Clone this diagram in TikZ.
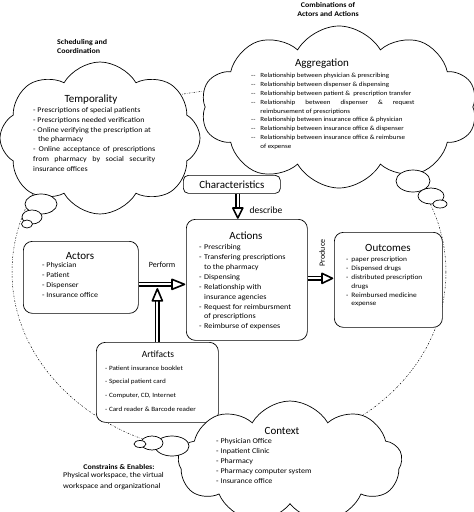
\documentclass[tikz,border=0pt]{standalone}
\usepackage{fontspec}
\setmainfont{Carlito}
\newfontfamily\wf[FakeStretch=1.1]{Carlito}
\usetikzlibrary{shapes.symbols,shapes.geometric,calc}
\newcommand{\fsz}[2]{\fontsize{#1}{#2}\selectfont}
\begin{document}
\begin{tikzpicture}[x=1pt,y=-1pt,
  cloudbox/.style={cloud, draw, fill=white, cloud ignores aspect, inner sep=0pt, line width=0.7pt, cloud puff arc=120},
  bubble/.style={ellipse, draw, fill=white, inner sep=0pt, line width=0.7pt},
  rbox/.style={draw, fill=white, rounded corners=9pt, line width=0.7pt, inner sep=0pt, anchor=north west},
  ttl/.style={font=\fsz{11}{13}, inner sep=0pt},
  lst/.style={inner sep=0pt, anchor=north west, align=left},
  lbl/.style={inner sep=0pt},
  hd/.style={font=\wf\bfseries\fsz{7.2}{9}, inner sep=0pt, align=center},
  dashpat/.style={line width=0.5pt, dash pattern=on 1.5pt off 1.5pt on 0.4pt off 1.5pt},
  dshaft/.style={double=white, double distance=1.8pt, line width=1.6pt},
  dhead/.style={draw, fill=white, line width=1.6pt, line join=round}
]
\useasboundingbox (0,0) rectangle (474,512);
\fill[white] (0,0) rectangle (474,512);

% big dash-dot ellipse
\draw[dashpat] (229,272) ellipse [x radius=217pt, y radius=182pt];

% header labels
\node[hd] (combo) at (328,9) {Combinations of\\Actors and Actions};
\node[hd, anchor=north west, align=left] (sched) at (57,39) {Scheduling and\\Coordination};

% Temporality cloud
\node[cloudbox, cloud puffs=8, minimum width=200, minimum height=152] (tempcloud) at (100,138) {};
\node[bubble, minimum width=32, minimum height=20] (tb1) at (41,204) {};
\node[bubble, minimum width=20, minimum height=14] (tb2) at (32,217) {};
\node[bubble, minimum width=11, minimum height=8] (tb3) at (27,224) {};
\node[ttl] (temptitle) at (91,100) {Temporality};
\node[lst, font=\wf\fsz{7.3}{9.9}] (templist) at (33,107) {%
- Prescriptions of special patients\\
- Prescriptions needed verification\\
- Online verifying the prescription at\\
\hspace*{5pt}the pharmacy\\
\makebox[122pt][s]{- Online acceptance of prescriptions}\\
\makebox[122pt][s]{from pharmacy by social security}\\
insurance offices};

% Aggregation cloud
\node[cloudbox, cloud puffs=10, minimum width=276, minimum height=162] (aggcloud) at (339,107) {};
\node[bubble, minimum width=34, minimum height=22] (ab1) at (413,181) {};
\node[bubble, minimum width=26, minimum height=16] (ab2) at (431,196) {};
\node[bubble, minimum width=14, minimum height=8] (ab3) at (440,204) {};
\node[ttl] (aggtitle) at (322,64) {Aggregation};
\node[lst, font=\wf\fsz{6.35}{8.9}] (agglist) at (251,71) {%
\begin{tabular}{@{}l@{\hspace{5pt}}l@{}}
-- & Relationship between physician \& prescribing\\
-- & Relationship between dispenser \& dispensing\\
-- & Relationship between patient \& \ prescription transfer\\
-- & \makebox[154pt][s]{Relationship between dispenser \& request}\\
   & reimbursement of prescriptions\\
-- & Relationship between insurance office \& physician\\
-- & Relationship between insurance office \& dispenser\\
-- & Relationship between insurance office \& reimburse\\
   & of expense
\end{tabular}};

% Characteristics
\node[rbox, rounded corners=5pt, minimum width=97, minimum height=18] (charbox) at (183,175) {};
\node[ttl] (chartext) at (charbox.center) {Characteristics};

% Actions
\node[rbox, minimum width=121, minimum height=121] (actions) at (186,219) {};
\node[ttl] (acttitle) at (246,236) {Actions};
\node[lst, font=\wf\fsz{7.4}{9.9}] (actlist) at (199,242.5) {%
\begin{tabular}{@{}l@{\hspace{2.5pt}}l@{}}
- & Prescribing\\
- & Transfering prescriptions\\
  & to the pharmacy\\
- & Dispensing\\
- & Relationship with\\
  & insurance agencies\\
- & Request for reimbursment\\
  & of prescriptions\\
- & Reimburse of expenses
\end{tabular}};

% Actors
\node[rbox, minimum width=115, minimum height=72] (actors) at (23,241) {};
\node[ttl] (actorstitle) at (80,256) {Actors};
\node[lst, font=\wf\fsz{7.3}{10}] (actorslist) at (42,262.5) {%
- Physician\\
- Patient\\
- Dispenser\\
- Insurance office};

% Outcomes
\node[rbox, minimum width=108, minimum height=95] (outcomes) at (334,232) {};
\node[ttl] (outtitle) at (388,248) {Outcomes};
\node[lst, font=\wf\fsz{6.75}{8.9}] (outlist) at (346,255) {%
\begin{tabular}{@{}l@{\hspace{3pt}}l@{}}
- & paper prescription\\
- & Dispensed drugs\\
- & distributed prescription\\
  & drugs\\
- & Reimbursed medicine\\
  & expense
\end{tabular}};

% Artifacts
\node[rbox, minimum width=122, minimum height=80] (artifacts) at (96,342) {};
\node[lbl, font=\fsz{9.5}{11}] (arttitle) at (158,354) {Artifacts};
\node[lst, font=\wf\fsz{6.5}{13.6}] (artlist) at (105,365.5) {%
- Patient insurance booklet\\
- Special patient card\\
- Computer, CD, Internet\\
- Card reader \& Barcode reader};

% Context cloud
\node[cloudbox, cloud puffs=9, minimum width=224, minimum height=122] (ctxcloud) at (290,462) {};
\node[bubble, minimum width=34, minimum height=20] (cb1) at (172,446) {};
\node[bubble, minimum width=22, minimum height=14] (cb2) at (152,443) {};
\node[bubble, minimum width=12, minimum height=7] (cb3) at (140,444) {};
\node[ttl] (ctxtitle) at (282,431) {Context};
\node[lst, font=\wf\fsz{7.35}{10}] (ctxlist) at (216,438.5) {%
- Physician Office\\
- Inpatient Clinic\\
- Pharmacy\\
- Pharmacy computer system\\
- Insurance office};

% Constrains & Enables
\node[lbl, font=\wf\bfseries\fsz{7.2}{9}] (constr) at (119,467) {Constrains \& Enables:};
\node[lst, font=\wf\fsz{7.35}{11}] (constrtext) at (63,472) {Physical workspace, the virtual\\workspace and organizational};

% describe arrow
\coordinate (d1) at ($(charbox.south)+(6,0)$);
\coordinate (d2) at (d1 |- actions.north);
\draw[dshaft] (d1) -- ($(d2)+(0,-10)$);
\draw[dhead] ($(d2)+(-5,-11)$) -- ($(d2)+(5,-11)$) -- ($(d2)+(0,-1)$) -- cycle;
\node[lbl, font=\fsz{9.5}{11}] (describe) at (266,210) {describe};

% perform arrow
\coordinate (p1) at ($(actors.east)+(0,7)$);
\coordinate (p2) at (p1 -| actions.west);
\draw[dshaft] (p1) -- ($(p2)+(-12,0)$);
\draw[dhead] ($(p2)+(-14,-5)$) -- ($(p2)+(-14,5)$) -- ($(p2)+(-1.5,0)$) -- cycle;
\node[lbl, font=\fsz{8}{9}] (perform) at (162,265) {Perform};

% artifacts arrow
\coordinate (a1) at (artifacts.north);
\coordinate (a2) at ($(a1 |- p1)+(0,4.5)$);
\draw[dshaft] (a1) -- ($(a2)+(0,11)$);
\draw[dhead] ($(a2)+(-5,12)$) -- ($(a2)+(5,12)$) -- (a2) -- cycle;

% produce arrow
\coordinate (q1) at ($(actions.east)+(0,-1.5)$);
\coordinate (q2) at (q1 -| outcomes.west);
\draw[dshaft] (q1) -- ($(q2)+(-10,0)$);
\draw[dhead] ($(q2)+(-12,-5)$) -- ($(q2)+(-12,5)$) -- ($(q2)+(-1.5,0)$) -- cycle;
\node[lbl, font=\fsz{8}{9}, rotate=90] (produce) at (322,253) {Produce};
\end{tikzpicture}
\end{document}
